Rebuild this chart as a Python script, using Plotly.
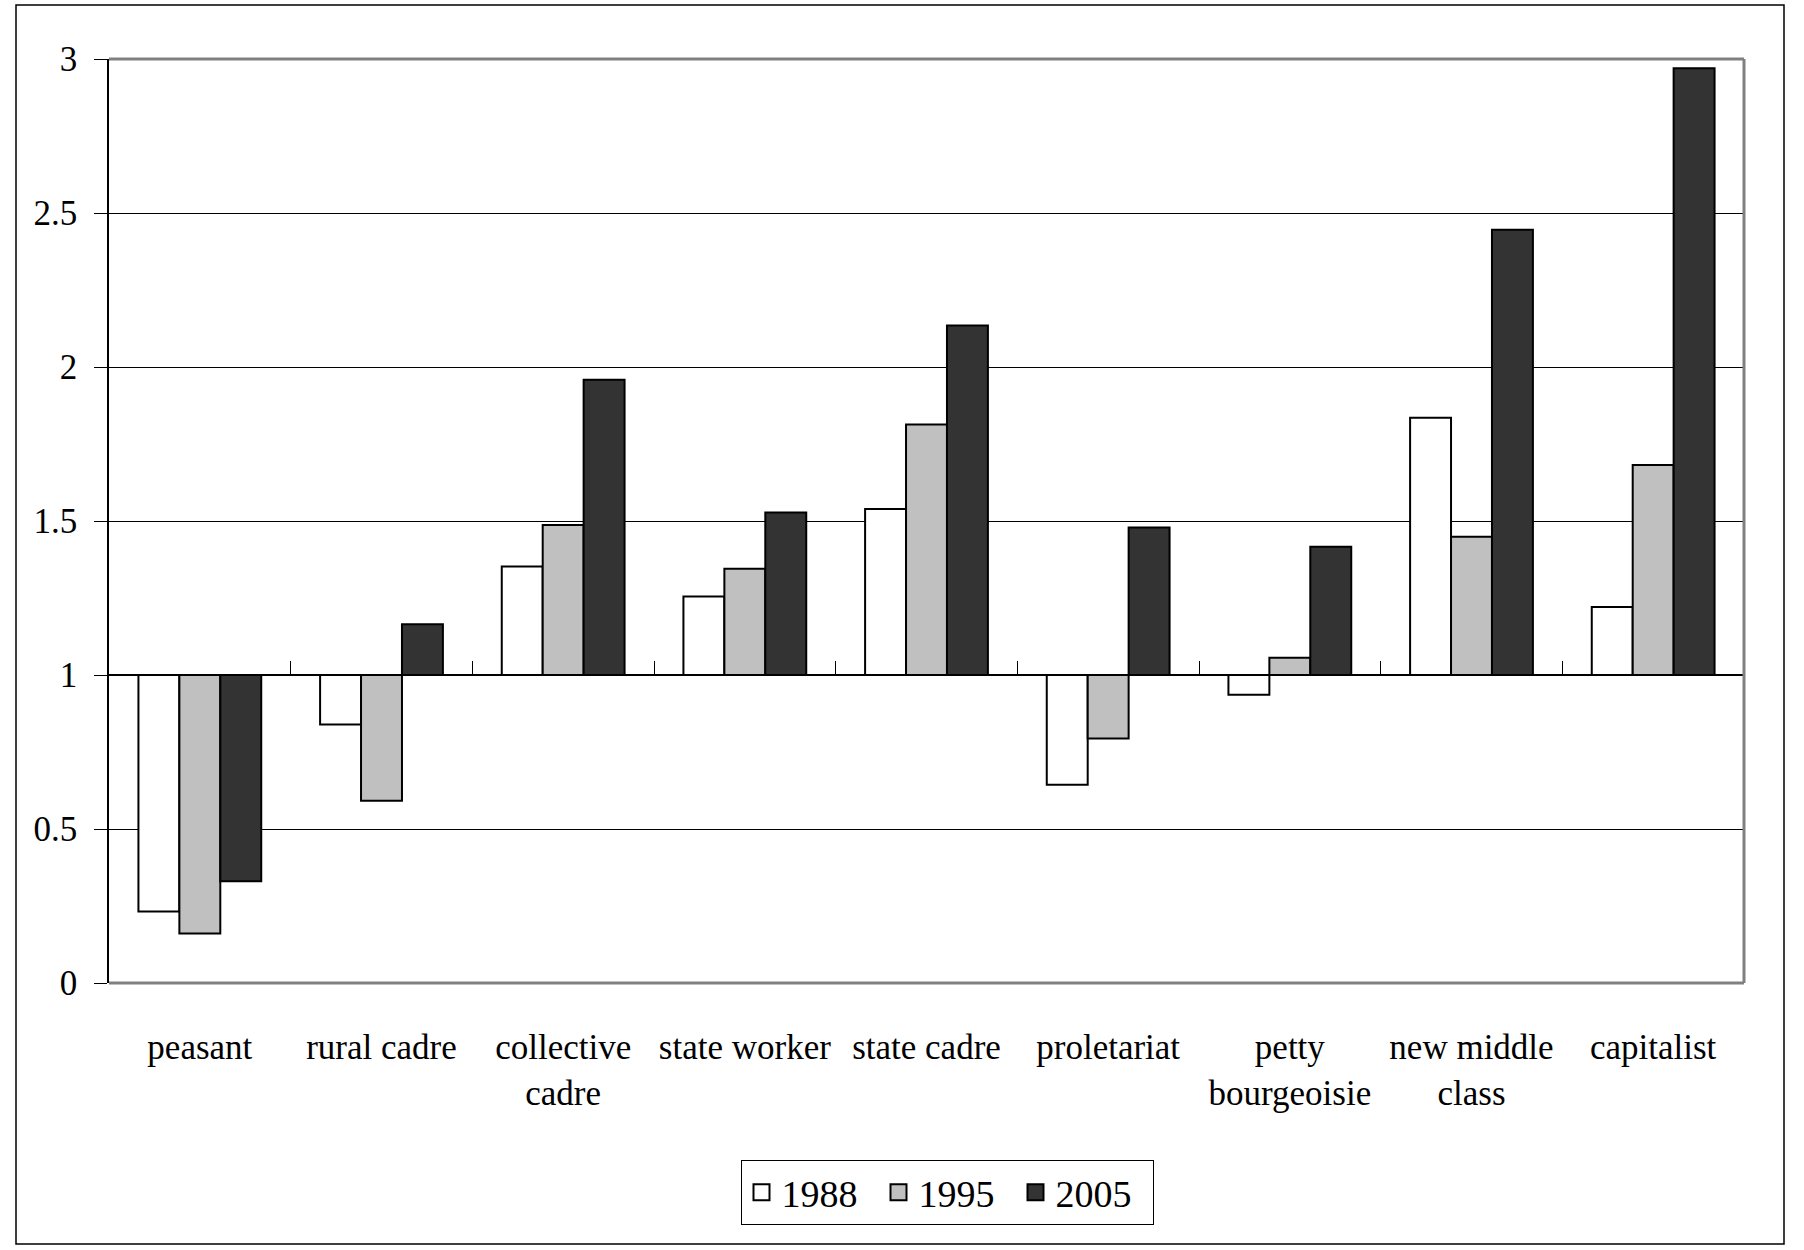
import plotly.graph_objects as go

categories = ["peasant", "rural cadre", "collective<br>cadre", "state worker", "state cadre",
              "proletariat", "petty<br>bourgeoisie", "new middle<br>class", "capitalist"]
years = ["1988", "1995", "2005"]
v1988 = [0.232, 0.839, 1.352, 1.255, 1.539, 0.644, 0.936, 1.835, 1.221]
v1995 = [0.161, 0.592, 1.487, 1.345, 1.813, 0.794, 1.056, 1.449, 1.682]
v2005 = [0.330, 1.165, 1.959, 1.528, 2.135, 1.479, 1.416, 2.446, 2.970]
series = [v1988, v1995, v2005]
colors = ["#FFFFFF", "#C0C0C0", "#333333"]
baseline = 1.0
y_ticks = [0, 0.5, 1, 1.5, 2, 2.5, 3]

FONT = "Liberation Serif"
FS = 35
fig = go.Figure()
for name, vals, col in zip(years, series, colors):
    fig.add_trace(go.Bar(
        x=categories, y=[v - baseline for v in vals], base=baseline, name=name,
        marker=dict(color=col, line=dict(color="black", width=2)),
        showlegend=False, legendgroup=name,
    ))
# legend entries with larger square swatches
for name, col in zip(years, colors):
    fig.add_trace(go.Scatter(
        x=[None], y=[None], mode="markers", name=name, legendgroup=name,
        marker=dict(symbol="square", size=16, color=col, line=dict(color="black", width=2)),
        hoverinfo="skip",
    ))

# invisible trace to carry the category axis drawn through y = 1
fig.add_trace(go.Scatter(x=categories, y=[None] * len(categories), xaxis="x2",
                         showlegend=False, hoverinfo="skip"))

W, H = 1804, 1250
L, R, T, B = 109, 60, 59, 267
ph = H - T - B
pw = W - L - R

fig.update_layout(
    width=W, height=H,
    margin=dict(l=L, r=R, t=T, b=B),
    paper_bgcolor="white", plot_bgcolor="white",
    font=dict(family=FONT, size=FS, color="black"),
    barmode="group", bargap=0.324, bargroupgap=0,
    showlegend=True,
    legend=dict(orientation="h", x=(947 - L) / pw, xanchor="center",
                y=(983 - 1160) / ph, yanchor="top",
                bordercolor="black", borderwidth=1, bgcolor="white",
                font=dict(family=FONT, size=38), itemsizing="trace",
                entrywidth=92, entrywidthmode="pixels",
                traceorder="normal", itemclick=False, itemdoubleclick=False),
    xaxis=dict(categoryorder="array", categoryarray=categories,
               showline=False, showgrid=False, ticks="",
               ticklabelstandoff=40, tickfont=dict(family=FONT, size=FS)),
    xaxis2=dict(matches="x", overlaying="x", anchor="free", position=baseline / 3.0,
                showline=True, linecolor="black", linewidth=1.5,
                ticks="inside", tickson="boundaries", ticklen=13, tickcolor="black",
                tickwidth=1, showticklabels=False, showgrid=False,
                categoryorder="array", categoryarray=categories),
    yaxis=dict(range=[0, 3], tickvals=y_ticks, ticktext=[f"{t:g}" for t in y_ticks],
               showgrid=True, gridcolor="black", gridwidth=1,
               showline=True, linecolor="black", linewidth=1.5,
               ticks="outside", ticklen=13, tickcolor="black", tickwidth=1,
               zeroline=False, ticklabelstandoff=10,
               tickfont=dict(family=FONT, size=FS)),
)

# plot-area border (gray) on top, right and bottom
for x0, y0, x1, y1 in [(0, 1, 1, 1), (1, 0, 1, 1), (0, 0, 1, 0)]:
    fig.add_shape(type="line", xref="paper", yref="paper", x0=x0, y0=y0, x1=x1, y1=y1,
                  line=dict(color="#808080", width=3), layer="above")
# outer chart border
fig.add_shape(type="rect", xref="paper", yref="paper",
              x0=(16 - L) / pw, x1=(1784 - L) / pw,
              y0=(983 - 1244) / ph, y1=(983 - 5) / ph,
              line=dict(color="black", width=1.5), fillcolor="rgba(0,0,0,0)", layer="below")

fig.write_html("out.html", config={"displayModeBar": False},
               post_script="document.body.style.margin='0';document.body.style.overflow='hidden';")
